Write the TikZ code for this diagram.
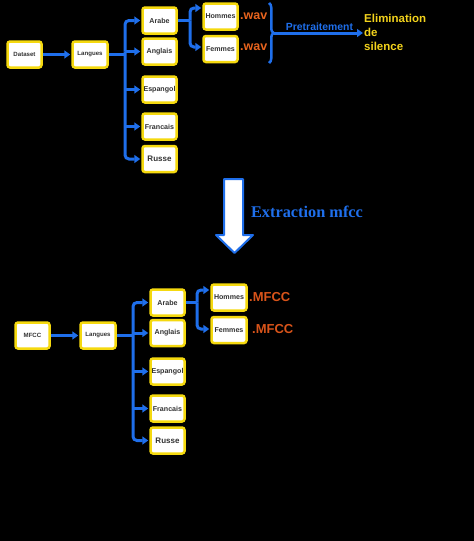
\documentclass[tikz,border=0pt]{standalone}
\usepackage{fontspec}
\setmainfont{Liberation Sans}
\newfontfamily\serifbold{Liberation Serif}
\usetikzlibrary{arrows.meta,decorations.pathreplacing}
\definecolor{bgc}{HTML}{000000}
\definecolor{arrblue}{HTML}{1F6FEB}
\definecolor{boxyellow}{HTML}{F5D90F}
\definecolor{txtgray}{HTML}{333333}
\definecolor{wavorange}{HTML}{E8641E}
\definecolor{mfccorange}{HTML}{D9541A}
\definecolor{elimyellow}{HTML}{F2D21C}
\definecolor{extrblue}{HTML}{1F6FEB}
\tikzset{
  box/.style={draw=boxyellow, line width=2.5pt, fill=white, rounded corners=2.5pt,
    minimum width=34pt, minimum height=26pt, inner sep=0pt, text=txtgray,
    font=\bfseries\fontsize{7.1}{8}\selectfont},
  smallbox/.style={box, font=\bfseries\fontsize{6.1}{7}\selectfont},
  bigbox/.style={box, font=\bfseries\fontsize{8}{9}\selectfont},
  arr/.style={draw=arrblue, line width=3pt, -{Triangle[length=6pt,width=8pt]}, shorten >=1pt},
  ln/.style={draw=arrblue, line width=3pt},
  wavlbl/.style={anchor=west, inner sep=0pt, text=wavorange, font=\bfseries\fontsize{12.5}{14}\selectfont},
  mfcclbl/.style={anchor=west, inner sep=0pt, text=mfccorange, font=\bfseries\fontsize{13}{15}\selectfont},
}
\begin{document}
\begin{tikzpicture}[x=1pt,y=-1pt]
\fill[bgc] (0,0) rectangle (474,541);
\useasboundingbox (0,0) rectangle (474,541);

% ---------- top ----------
\node[smallbox] (ds) at (24.5,54.5) {Dataset};
\node[smallbox, minimum width=35pt] (l1) at (90,54.5) {Langues};
\node[box] (ar1) at (159.5,20.5) {Arabe};
\node[box] (an1) at (159.5,51.5) {Anglais};
\node[box] (es1) at (159.5,89.5) {Espangol};
\node[box] (fr1) at (159.5,126.5) {Francais};
\node[bigbox] (ru1) at (159.5,159) {Russe};
\node[box] (h1) at (220.5,16.5) {Hommes};
\node[box] (f1) at (220.5,49) {Femmes};

\coordinate (t1) at (125,54.5);
\coordinate (b1) at (190,20.5);

\draw[arr] (ds) -- (l1);
\draw[ln] (l1.east) -- (t1);
\draw[arr, rounded corners=4pt] (t1 |- an1) |- (ar1);
\draw[arr, rounded corners=4pt] (t1 |- an1) |- (ru1);
\draw[arr] (t1 |- an1) -- (an1);
\draw[arr] (t1 |- es1) -- (es1);
\draw[arr] (t1 |- fr1) -- (fr1);
\draw[ln] (ar1.east) -- (b1);
\draw[arr, rounded corners=4pt] (b1) |- ([yshift=8.5pt]h1.west);
\draw[arr, rounded corners=4pt] (b1) |- ([yshift=2pt]f1.west);

\node[wavlbl] (w1) at (240,16) {.wav};
\node[wavlbl] (w2) at (240,47) {.wav};

\coordinate (bt) at (269,3);
\coordinate (bb) at (269,63);
\coordinate (bm) at (274,33);
\draw[arrblue, line width=2.5pt, decorate, decoration={brace, amplitude=4.5pt}] (bt) -- (bb);

\node[anchor=west, inner sep=0pt, align=left, text=elimyellow,
  font=\bfseries\fontsize{11.5}{14}\selectfont] (el) at (364,32) {Elimination\\de\\silence};
\draw[arr] (bm) -- (el.west |- bm);
\node[inner sep=0pt, text=arrblue, font=\bfseries\fontsize{10.4}{12}\selectfont] (pt) at (319.5,26.5) {Pretraitement};

% ---------- middle ----------
\draw[fill=white, draw=arrblue, line width=2pt, line join=round]
  (224,179) -- (243,179) -- (243,235) -- (253,235) -- (234.5,253) -- (216,235) -- (224,235) -- cycle;
\node[inner sep=0pt, text=extrblue, font=\serifbold\bfseries\fontsize{16.3}{18}\selectfont] (ex) at (307,212) {Extraction mfcc};

% ---------- bottom ----------
\node[smallbox] (mf) at (32.5,335.5) {MFCC};
\node[smallbox, minimum width=35pt] (l2) at (98,335.5) {Langues};
\node[box] (ar2) at (167.5,302.5) {Arabe};
\node[box] (an2) at (167.5,333) {Anglais};
\node[box] (es2) at (167.5,371.5) {Espangol};
\node[box] (fr2) at (167.5,408.5) {Francais};
\node[bigbox] (ru2) at (167.5,440.5) {Russe};
\node[box, minimum width=35pt] (h2) at (229,297.5) {Hommes};
\node[box, minimum width=35pt] (f2) at (229,330) {Femmes};

\coordinate (t2) at (133,335.5);
\coordinate (b2) at (197,302.5);

\draw[arr] (mf) -- (l2);
\draw[ln] (l2.east) -- (t2);
\draw[arr, rounded corners=4pt] (t2 |- an2) |- (ar2);
\draw[arr, rounded corners=4pt] (t2 |- an2) |- (ru2);
\draw[arr] (t2 |- an2) -- (an2);
\draw[arr] (t2 |- es2) -- (es2);
\draw[arr] (t2 |- fr2) -- (fr2);
\draw[ln] (ar2.east) -- (b2);
\draw[arr, rounded corners=4pt] (b2) |- ([yshift=7.5pt]h2.west);
\draw[arr, rounded corners=4pt] (b2) |- ([yshift=1pt]f2.west);

\node[mfcclbl] (m1) at (249,297) {.MFCC};
\node[mfcclbl] (m2) at (252,329) {.MFCC};
\end{tikzpicture}
\end{document}
